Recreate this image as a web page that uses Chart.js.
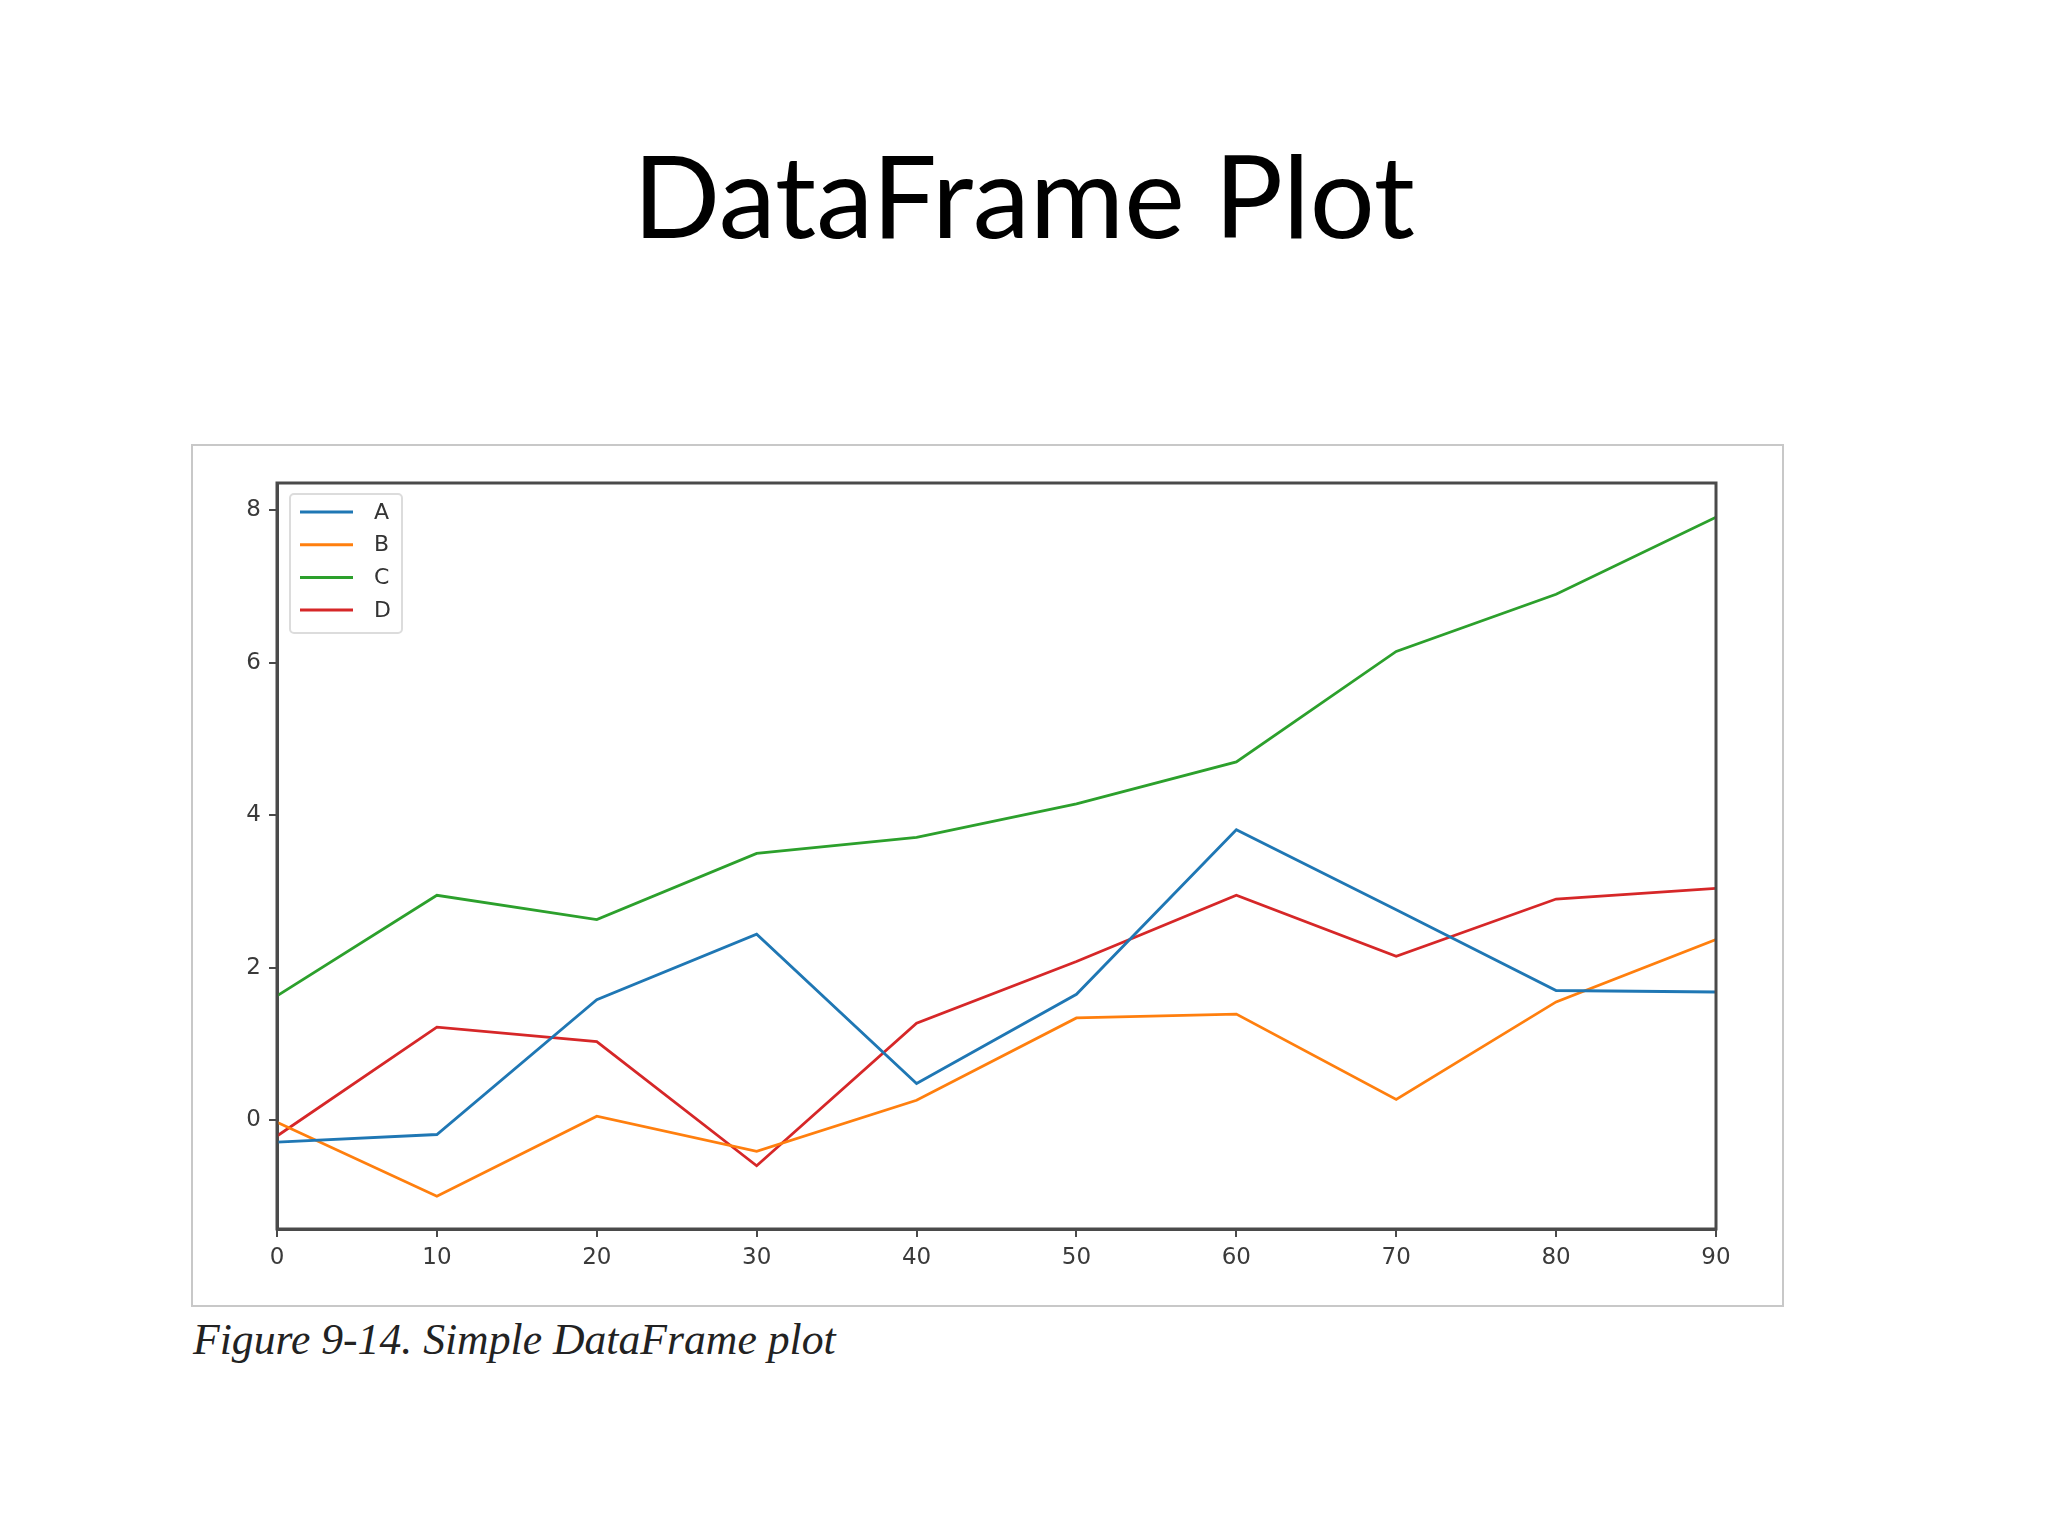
<!DOCTYPE html>
<html>
<head>
<meta charset="utf-8">
<title>DataFrame Plot</title>
<script src="https://cdn.jsdelivr.net/npm/chart.js@4.4.1/dist/chart.umd.min.js"></script>
<style>
  html, body { margin: 0; padding: 0; background: #fff; }
  body { width: 2048px; height: 1536px; position: relative; overflow: hidden; }
  #titlewrap {
    position: absolute; left: 0; width: 2048px; top: 137px;
    text-align: center;
  }
  #title {
    font-family: Lato, "Open Sans", sans-serif;
    font-size: 120px; line-height: 1; color: #000; white-space: nowrap;
  }
  #frame {
    position: absolute; left: 191px; top: 444px; width: 1589px; height: 859px;
    border: 2px solid #c8c8c8;
  }
  #caption {
    position: absolute; left: 193px; top: 1318px;
    font-family: "Liberation Serif", "DejaVu Serif", serif; font-style: italic;
    font-size: 44px; line-height: 1; color: #222; white-space: nowrap;
  }
  #mycanvas { position: absolute; left: 0; top: 0; }
</style>
</head>
<body>
<div id="titlewrap"><span id="title">DataFrame Plot</span></div>
<div id="frame"></div>
<div id="caption">Figure 9-14. Simple DataFrame plot</div>
<canvas id="mycanvas" width="2048" height="1536"></canvas>

<script>
// index values (x axis)
var xValues = [0, 10, 20, 30, 40, 50, 60, 70, 80, 90];

// series values
var seriesA = [-0.29, -0.19, 1.58, 2.44, 0.48, 1.65, 3.81, 2.76, 1.70, 1.68];
var seriesB = [-0.03, -1.00, 0.05, -0.41, 0.26, 1.34, 1.39, 0.27, 1.55, 2.37];
var seriesC = [1.63, 2.95, 2.63, 3.50, 3.71, 4.15, 4.70, 6.15, 6.90, 7.91];
var seriesD = [-0.21, 1.22, 1.03, -0.60, 1.27, 2.08, 2.95, 2.15, 2.90, 3.04];

var seriesNames = ['A', 'B', 'C', 'D'];
var seriesColors = ['#1f77b4', '#ff7f0e', '#2ca02c', '#d62728'];

// tick labels
var xTicks = [0, 10, 20, 30, 40, 50, 60, 70, 80, 90];
var yTicks = [0, 2, 4, 6, 8];

function fitText(id, target)
{
  var el = document.getElementById(id);
  var size = parseFloat(getComputedStyle(el).fontSize);
  var w = el.getBoundingClientRect().width;
  if (w > 0) el.style.fontSize = (size * target / w) + 'px';
}

function toPoints(vals)
{
  return xValues.map(function(x, i) { return { x: x, y: vals[i] }; });
}

var axisColor = '#4a4a4a';
var tickFont = { family: 'DejaVu Sans', size: 23 };

// box round the plot area
var framePlugin = {
  id: 'framePlugin',
  afterDraw: function(chart)
  {
    var a = chart.chartArea, ctx = chart.ctx;
    ctx.save();
    ctx.strokeStyle = axisColor;
    ctx.lineWidth = 3;
    ctx.strokeRect(a.left, a.top, a.right - a.left, a.bottom - a.top);
    ctx.restore();
  }
};

// matplotlib style legend in the upper left corner
var legendPlugin = {
  id: 'mplLegend',
  afterDraw: function(chart)
  {
    var a = chart.chartArea, ctx = chart.ctx;
    var x0 = a.left + 13, y0 = a.top + 11, w = 112, h = 139;
    ctx.save();
    ctx.fillStyle = 'rgba(255,255,255,0.9)';
    ctx.strokeStyle = '#dcdcdc';
    ctx.lineWidth = 2;
    ctx.beginPath();
    ctx.roundRect(x0, y0, w, h, 4);
    ctx.fill();
    ctx.stroke();
    ctx.font = '22px "DejaVu Sans"';
    ctx.textBaseline = 'middle';
    chart.data.datasets.forEach(function(ds, i)
    {
      var y = y0 + 18 + i * 32.7;
      ctx.strokeStyle = ds.borderColor;
      ctx.lineWidth = 3;
      ctx.beginPath();
      ctx.moveTo(x0 + 10, y);
      ctx.lineTo(x0 + 63, y);
      ctx.stroke();
      ctx.fillStyle = '#333';
      ctx.fillText(ds.label, x0 + 84, y + 1);
    });
    ctx.restore();
  }
};

var chartdata = {
  datasets: [seriesA, seriesB, seriesC, seriesD].map(function(vals, i)
  {
    return {
      label: seriesNames[i],
      data: toPoints(vals),
      borderColor: seriesColors[i],
      backgroundColor: seriesColors[i],
      borderWidth: 2.8,
      pointRadius: 0,
      tension: 0,
      fill: false
    };
  })
};

fitText('title', 782);
fitText('caption', 643);

var ctx = document.getElementById('mycanvas');
var lineGraph = new Chart(ctx,
{
  type: 'line',
  data: chartdata,
  plugins: [framePlugin, legendPlugin],
  options: {
    responsive: false,
    animation: false,
    layout: { padding: { left: 217, top: 483, right: 332, bottom: 247 } },
    plugins: {
      legend: { display: false },
      tooltip: { enabled: false }
    },
    scales: {
      x: {
        type: 'linear',
        min: 0,
        max: 90,
        afterBuildTicks: function(scale) { scale.ticks = xTicks.map(function(v) { return { value: v }; }); },
        afterFit: function(scale) { scale.height = 60; },
        grid: { drawOnChartArea: false, drawTicks: true, tickLength: 8, color: axisColor, lineWidth: 2 },
        border: { display: true, color: axisColor, width: 3 },
        ticks: { font: tickFont, color: '#3a3a3a', padding: 7, maxRotation: 0 }
      },
      y: {
        type: 'linear',
        min: -1.43,
        max: 8.36,
        afterBuildTicks: function(scale) { scale.ticks = yTicks.map(function(v) { return { value: v }; }); },
        afterFit: function(scale) { scale.width = 60; },
        grid: { drawOnChartArea: false, drawTicks: true, tickLength: 8, color: axisColor, lineWidth: 2 },
        border: { display: true, color: axisColor, width: 3 },
        ticks: { font: tickFont, color: '#3a3a3a', padding: 8 }
      }
    }
  }
});
</script>
</body>
</html>
